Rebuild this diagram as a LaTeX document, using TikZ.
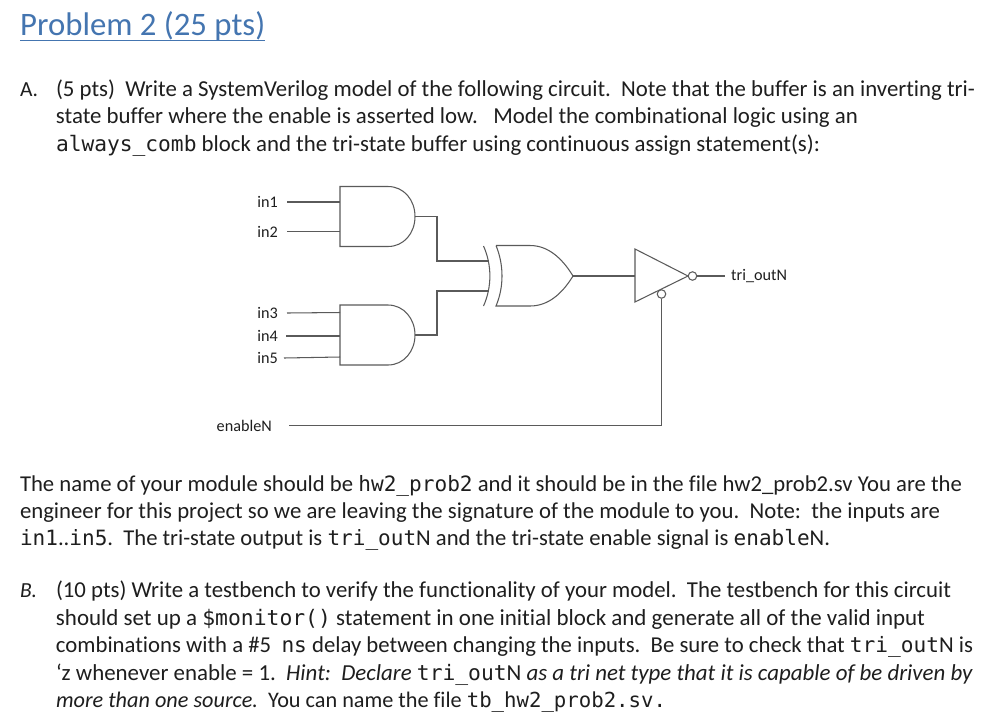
\documentclass[tikz,border=0pt]{standalone}
\usepackage{fontspec}
\setmainfont{Carlito}[Ligatures=NoCommon]
\setmonofont{DejaVu Sans Mono}[Scale=0.93]
\newcommand{\tline}[5]{\node[txt] (#1) at (#2,#3) {\resizebox{#4pt}{!}{\strut #5}};}
\newcommand{\mo}[1]{{\ttfamily #1}}
\definecolor{wirecol}{HTML}{5A5A5A}
\definecolor{textcol}{HTML}{1E1E1E}
\definecolor{titlecol}{HTML}{4475B0}
\tikzset{
  txt/.style={anchor=base west,inner sep=0pt,outer sep=0pt,text=textcol,font=\fontsize{21.5}{24}\selectfont},
  lbl/.style={anchor=east,inner sep=0pt,inner xsep=9pt,text=textcol,font=\fontsize{16.2}{18}\selectfont},
  wire/.style={draw=wirecol,line width=1.05pt},
  bubble/.style={circle,draw=wirecol,line width=1.05pt,inner sep=0pt,minimum size=8.5pt,fill=white}
}
\begin{document}
\begin{tikzpicture}[x=1pt,y=-1pt]
\useasboundingbox (0,0) rectangle (998,716);
\fill[white] (0,0) rectangle (998,716);
% title
\node[anchor=base west,inner sep=0pt,text=titlecol,font=\fontsize{30.5}{34}\selectfont] (title) at (20,35) {\resizebox{245pt}{!}{\strut Problem 2 (25 pts)}};
\coordinate (ulA) at (20,40.5);
\coordinate (ulB) at (265,40.5);
\draw[titlecol,line width=0.9pt] (ulA) -- (ulB);
% part A
\node[txt] (A) at (20,96) {A.};
\tline{a1}{56}{96}{919}{(5 pts)\ \ Write a SystemVerilog model of the following circuit.\ \ Note that the buffer is an inverting tri-}
\tline{a2}{56}{123.5}{802}{state buffer where the enable is asserted low.\ \ \ Model the combinational logic using an}
\tline{a3}{56}{151}{764}{\mo{always\_comb} block and the tri-state buffer using continuous assign statement(s):}
% paragraph
\tline{p1}{20}{491}{942}{The name of your module should be \mo{hw2\_prob2} and it should be in the file hw2\_prob2.sv You are the}
\tline{p2}{20}{518}{920}{engineer for this project so we are leaving the signature of the module to you.\ \ Note:\ \ the inputs are}
\tline{p3}{20}{545.5}{810}{\mo{in1}..\mo{in5}.\ \ The tri-state output is \mo{tri\_out}N and the tri-state enable signal is \mo{enable}N.}
% part B
\node[txt] (B) at (20,597.5) {\textit{B.}};
\tline{b1}{56}{597.5}{895}{(10 pts) Write a testbench to verify the functionality of your model.\ \ The testbench for this circuit}
\tline{b2}{56}{625}{869}{should set up a \mo{\$monitor()} statement in one initial block and generate all of the valid input}
\tline{b3}{56}{652.5}{917}{combinations with a \#5\ \ \mo{ns} delay between changing the inputs.\ \ Be sure to check that \mo{tri\_out}N is}
\tline{b4}{56}{680}{917}{‘z whenever enable = 1.\ \ \textit{Hint:\ \ Declare} \mo{tri\_out}N \textit{as a tri net type that it is capable of be driven by}}
\tline{b5}{56}{707.5}{610}{\textit{more than one source.}\ \ You can name the file \mo{tb\_hw2\_prob2.sv.}}
% labels
\node[lbl] (in1) at (287,202) {in1};
\node[lbl] (in2) at (287,231.5) {in2};
\node[lbl] (in3) at (287,313) {in3};
\node[lbl,inner xsep=8pt] (in4) at (286,336) {in4};
\node[lbl,inner xsep=6pt] (in5) at (284,358) {in5};
\node[lbl,inner xsep=17pt] (enb) at (289,425.5) {enableN};
\node[lbl,anchor=west,inner xsep=6pt] (out) at (725,276) {tri\_outN};
% gate pins
\coordinate (g1a) at (340,202);
\coordinate (g1b) at (340,231.5);
\coordinate (g1o) at (415,216.5);
\coordinate (g2a) at (340,312.5);
\coordinate (g2b) at (340,336);
\coordinate (g2c) at (340,357);
\coordinate (g2o) at (415,335);
\coordinate (xa) at (488.5,261);
\coordinate (xb) at (488.5,291);
\coordinate (xo) at (573,276);
\coordinate (ti) at (635,276);
% gates
\draw[wire] (340,186.5) -- (388,186.5) .. controls (404,186.5) and (415,200) .. (g1o) .. controls (415,233) and (404,246.5) .. (388,246.5) -- (340,246.5) -- cycle;
\draw[wire] (340,305) -- (388,305) .. controls (404,305) and (415,319) .. (g2o) .. controls (415,351) and (404,365) .. (388,365) -- (340,365) -- cycle;
\draw[wire] (483.5,246) .. controls (492,265) and (492,287) .. (483.5,306);
\draw[wire] (496,245.5) -- (530,245.5) .. controls (548,245.5) and (562,258) .. (xo) .. controls (562,294) and (548,306) .. (530,306) -- (496,306) .. controls (504,287) and (504,265) .. (496,245.5);
\draw[wire] (635,249) -- (688,276) -- (635,302) -- cycle;
\node[bubble] (ob) at (692.5,276) {};
\node[bubble] (eb) at (661.5,294) {};
% connectors
\draw[wire] (in1.east) -- (g1a);
\draw[wire] (in2.east) -- (g1b);
\draw[wire] (in3.east) -- (g2a);
\draw[wire] (in4.east) -- (g2b);
\draw[wire] (in5.east) -- (g2c);
\draw[wire] (g1o) -- (437,216.5) -- (437,261) -- (xa);
\draw[wire] (g2o) -- (437,335) -- (437,291) -- (xb);
\draw[wire] (xo) -- (ti);
\draw[wire] (ob.east) -- (out.west);
\draw[wire] (enb.east) -- (661.5,425.5) -- (eb.south);
\end{tikzpicture}
\end{document}
